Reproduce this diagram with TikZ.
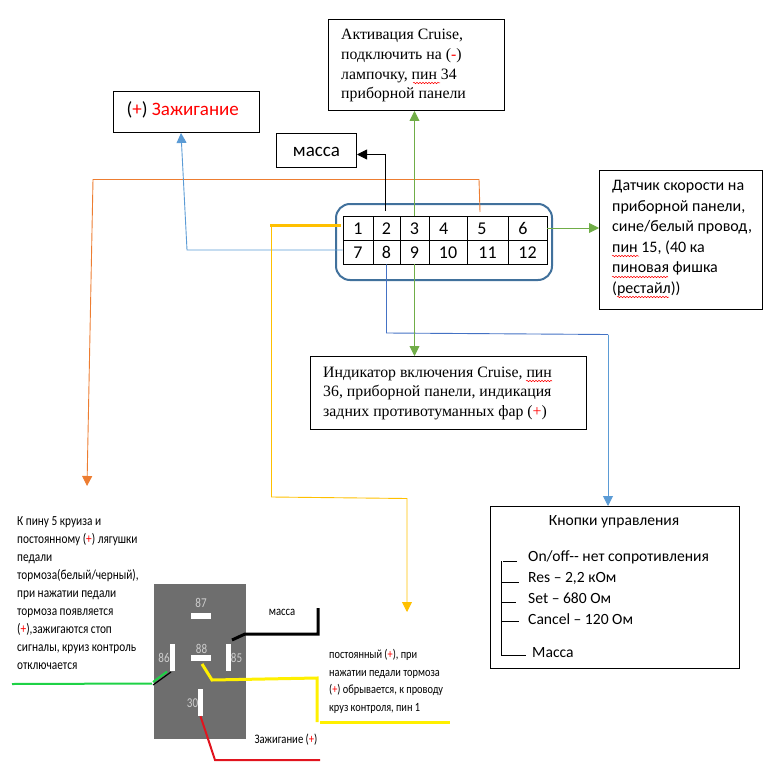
\documentclass[tikz,border=0pt]{standalone}
\usepackage{fontspec}
\setmainfont{Liberation Serif}
\newfontfamily\calibrifont{Carlito}
\newfontfamily\narrowfont[FakeStretch=0.82]{Carlito}
\usetikzlibrary{arrows.meta,decorations.pathmorphing}
\definecolor{wireorange}{RGB}{237,125,49}
\definecolor{wireblue}{RGB}{91,155,213}
\definecolor{wiredeep}{RGB}{68,114,196}
\definecolor{wiregreen}{RGB}{112,173,71}
\definecolor{wiregold}{RGB}{255,192,0}
\definecolor{framecolor}{RGB}{65,113,156}
\definecolor{relaygray}{RGB}{110,110,110}
\definecolor{pingray}{RGB}{205,205,205}
\definecolor{wireyellow}{RGB}{255,240,0}
\definecolor{wirered}{RGB}{225,20,30}
\definecolor{wirelime}{RGB}{30,210,70}
\tikzset{
	note/.style={draw, rectangle, line width=1pt, inner sep=0pt, anchor=north west},
	cell/.style={draw, rectangle, line width=0.9pt, inner sep=0pt, text height=13.4pt, text depth=0pt, font=\calibrifont\fontsize{18}{18}\selectfont},
	wire/.style={line width=0.9pt},
	tip/.style={-{Triangle[length=10pt,width=10pt]}},
	pinbar/.style={fill=white, draw=none, rectangle, inner sep=0pt},
	pinlabel/.style={text=pingray, inner sep=0pt, font=\narrowfont\fontsize{13.5}{13.5}\selectfont},
	serifnote/.style={align=left, anchor=west, inner sep=0pt, font=\fontsize{15.8}{19.5}\selectfont},
	sansnote/.style={align=left, anchor=north west, inner sep=0pt},
	keyline/.style={anchor=west, inner sep=0pt, font=\calibrifont\fontsize{15.6}{15.6}\selectfont},
	squiggle/.style={draw=red, line width=0.5pt, decorate, decoration={snake, amplitude=0.7pt, segment length=3pt}}
}
\newcommand{\plusmark}[1]{\textcolor{red}{#1}}
\begin{document}
\begin{tikzpicture}[x=1pt,y=-1pt]
	\useasboundingbox (0,0) rectangle (778,778);
	% Connector
	\node[draw=framecolor, line width=2pt, rounded corners=14pt, rectangle, minimum width=216pt, minimum height=76pt, inner sep=0pt] (frame) at (444,242) {};
	\foreach \name/\x/\w/\off in {1/358/30/0, 2/386.5/27/0, 3/414.5/29/0, 4/448/38/8.5, 5/487.5/41/11, 6/527.5/39/9}
		\node[cell, minimum width=\w pt, minimum height=24pt] (pin\name) at (\x,228) {\name\kern\off pt\relax};
	\foreach \name/\x/\w in {7/358/30, 8/386.5/27, 9/414.5/29, 10/448/38, 11/487.5/41, 12/527.5/39}
		\node[cell, minimum width=\w pt, minimum height=24pt] (pin\name) at (\x,252) {\name};

	% Boxes
	\node[note, minimum width=176pt, minimum height=91pt] (activation) at (328,19) {};
	\node[serifnote] at (341,36) {Активация Cruise,};
	\node[serifnote] at (341,56) {подключить на (\plusmark{-})};
	\node[serifnote] at (341,75.5) {лампочку, пин 34};
	\node[serifnote] at (341,94.5) {приборной панели};
	\node[note, minimum width=80pt, minimum height=34pt] (ground) at (276,133) {};
	\node[inner sep=0pt, font=\calibrifont\fontsize{19}{19}\selectfont] (groundtext) at (316.5,152) {масса};
	\node[note, minimum width=146pt, minimum height=41pt] (ignition) at (113,91) {};
	\node[anchor=west, inner sep=0pt, font=\calibrifont\fontsize{19}{19}\selectfont] (ignitiontext) at (126.5,109.5) {(\plusmark{+}) \plusmark{Зажигание}};
	\node[note, minimum width=163pt, minimum height=139pt] (speed) at (599,170) {};
	\node[sansnote, font=\calibrifont\fontsize{16}{20.6}\selectfont] (speedtext) at (612,180) {Датчик скорости на\\приборной панели,\\сине/белый провод,\\пин 15, (40 ка\\пиновая фишка\\(рестайл))};
	\node[note, minimum width=276pt, minimum height=73pt] (indicator) at (310,356) {};
	\node[serifnote] at (323,373.5) {Индикатор включения Cruise, пин};
	\node[serifnote] at (323,393) {36, приборной панели, индикация};
	\node[serifnote] at (323,413) {задних противотуманных фар (\plusmark{+})};
	\node[note, minimum width=249pt, minimum height=162pt] (buttons) at (490,506) {};
	\node[inner sep=0pt, font=\calibrifont\fontsize{15.6}{15.6}\selectfont] (buttonstitle) at (614,522) {Кнопки управления};
	\node[keyline] (onoff) at (528,557) {On/off-- нет сопротивления};
	\node[keyline] (res) at (528,578.5) {Res – 2,2 кОм};
	\node[keyline] (set) at (528,598.5) {Set – 680 Ом};
	\node[keyline] (cancel) at (528,619) {Cancel – 120 Ом};
	\node[keyline] (mass) at (532,653) {Масса};

	% Spelling marks
	\draw[squiggle] (413,83) -- (440,83);
	\draw[squiggle] (526,381) -- (552,381);
	\draw[squiggle] (612,256) -- (639,256);
	\draw[squiggle] (612,277) -- (668,277);
	\draw[squiggle] (617,297) -- (669,297);

	% Button wiring
	\draw[line width=0.8pt] (517,561) -- (503,561) (501,561) -- (501,655) -- (526,655);
	\draw[line width=0.8pt] (501,582.5) -- (519,582.5);
	\draw[line width=0.8pt] (501,602) -- (516,602);
	\draw[line width=0.8pt] (501,621) -- (519,621);

	% Free ends
	\coordinate (orangeend) at (87,486);
	\coordinate (goldstart) at (270,225.5);
	\coordinate (goldend) at (407,612);
	\coordinate (buttonend) at (608,506);

	% Wires
	\draw[wire, wireorange, tip] (480,212) -- (479,179.5) -- (93,179.5) -- (orangeend);
	\draw[wire, black, tip] (385.5,211) -- (385.5,154.5) -- (ground.east |- 0,154.5);
	\draw[wire, wiregreen, tip] (pin3.north) -- (activation.south -| pin3.north);
	\draw[wire, wiregreen, tip] (pin6.east) -- (speed.west |- pin6.east);
	\draw[wire, wireblue, tip] (pin7.west |- 0,250) -- (187,250) -- (ignition.south -| 181,0);
	\draw[line width=3pt, wiregold] (goldstart) -- (341,225.5);
	\draw[wire, wiregold, tip] (271.5,227) -- (271.5,497) -- (407,498.5) -- (goldend);
	\draw[wire, wiredeep] (pin8.south) -- (386.5,333) -- (608,334.5);
	\draw[wire, wireblue, tip] (608,334.5) -- (buttonend);
	\draw[wire, wiregreen, tip] (pin9.south) -- (indicator.north -| pin9.south);

	% Relay
	\node[fill=relaygray, rectangle, inner sep=0pt, minimum width=92pt, minimum height=155pt, anchor=north west] (relay) at (154,584) {};
	\node[pinbar, minimum width=20pt, minimum height=6pt] (relay87) at (201,616) {};
	\node[pinbar, minimum width=20pt, minimum height=6pt] (relay88) at (201,658) {};
	\node[pinbar, minimum width=5pt, minimum height=27pt] (relay86) at (172.5,657.5) {};
	\node[pinbar, minimum width=5pt, minimum height=27pt] (relay85) at (228.5,657.5) {};
	\node[pinbar, minimum width=5pt, minimum height=27pt] (relay30) at (200.5,702.5) {};
	\node[pinlabel] (label87) at (201,603) {87};
	\node[pinlabel] (label88) at (201.5,648.5) {88};
	\node[pinlabel] (label86) at (164,658) {86};
	\node[pinlabel] (label85) at (236.5,658) {85};
	\node[pinlabel] (label30) at (192.5,703) {30};

	% Relay wires
	\coordinate (limeend) at (12,684);
	\coordinate (yellowend) at (450,722);
	\coordinate (redend) at (320,760);
	\coordinate (massend) at (318,608);
	\draw[line width=3pt, black] (massend) -- (318,634) -- (245,634) -- (232,640);
	\draw[line width=2pt, wirelime] (limeend) -- (152,683.5);
	\draw[line width=2pt, wirelime] (153,682) -- (167,671.5);
	\draw[line width=1.2pt, black] (153,685) -- (171,672);
	\draw[line width=3pt, wireyellow] (202,664) -- (212,680) -- (317,678) -- (317,722);
	\draw[line width=3pt, wireyellow] (320,722) -- (yellowend);
	\draw[line width=2pt, wirered] (relay30.south) -- (215,760) -- (redend);

	% Relay texts
	\node[sansnote, font=\narrowfont\fontsize{13.8}{18}\selectfont] (pedaltext) at (17,516) {К пину 5 круиза и\\постоянному (\plusmark{+}) лягушки\\педали\\тормоза(белый/черный),\\при нажатии педали\\тормоза появляется\\(\plusmark{+}),зажигаются стоп\\сигналы, круиз контроль\\отключается};
	\node[sansnote, font=\narrowfont\fontsize{12.6}{17.4}\selectfont] (holdtext) at (329,649.5) {постоянный (\plusmark{+}), при\\нажатии педали тормоза\\(\plusmark{+}) обрывается, к проводу\\круз контроля, пин 1};
	\node[inner sep=0pt, font=\narrowfont\fontsize{13}{14}\selectfont] (masstext) at (282,612) {масса};
	\node[inner sep=0pt, font=\narrowfont\fontsize{13}{14}\selectfont] (firetext) at (286,740) {Зажигание (\plusmark{+})};
\end{tikzpicture}
\end{document}
